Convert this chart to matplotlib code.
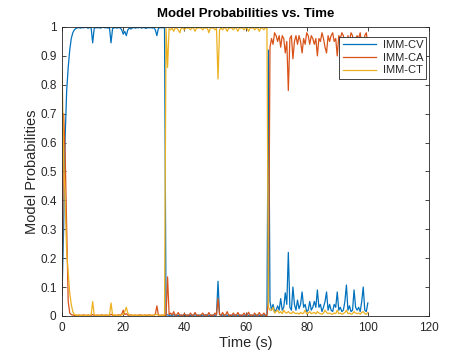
import numpy as np
import matplotlib
matplotlib.use("Agg")
import matplotlib.pyplot as plt

plt.rcParams['font.family'] = ['Liberation Sans', 'DejaVu Sans']

# time samples (s), 0.5 s apart from 0 to 100
t = np.arange(201) * 0.5

p_cv = [
    0.08, 0.30, 0.62, 0.78, 0.86, 0.92, 0.96, 0.98, 0.99, 0.995,
    0.997, 0.998, 0.996, 0.998, 0.997, 0.999, 0.998, 0.996, 0.998, 0.997,
    0.945, 0.995, 0.998, 0.997, 0.998, 0.996, 0.998, 0.999, 0.997, 0.998,
    0.996, 0.998, 0.945, 0.994, 0.997, 0.998, 0.996, 0.998, 0.997, 0.99,
    0.975, 0.985, 0.97, 0.99, 0.996, 0.993, 0.997, 0.998, 0.996, 0.998,
    0.997, 0.999, 0.996, 0.998, 0.997, 0.995, 0.998, 0.997, 0.998, 0.996,
    0.998, 0.99, 0.97, 0.995, 0.998, 0.997, 0.998, 0.996,
    0.003, 0.004, 0.002, 0.003, 0.002, 0.004, 0.002, 0.003, 0.002, 0.002,
    0.003, 0.002, 0.004, 0.002, 0.003, 0.002, 0.002, 0.003, 0.002, 0.004,
    0.002, 0.003, 0.002, 0.002, 0.003, 0.002, 0.004, 0.002, 0.003, 0.002,
    0.002, 0.003, 0.002, 0.004, 0.12, 0.005, 0.002, 0.003, 0.002, 0.004,
    0.002, 0.003, 0.002, 0.002, 0.003, 0.002, 0.004, 0.002, 0.003, 0.002,
    0.002, 0.003, 0.002, 0.004, 0.002, 0.003, 0.002, 0.002, 0.003, 0.002,
    0.004, 0.002, 0.003, 0.002, 0.003, 0.002, 0.003,
    0.92, 0.05, 0.02, 0.04, 0.015, 0.02, 0.035, 0.02, 0.06, 0.02,
    0.03, 0.08, 0.04, 0.22, 0.03, 0.02, 0.10, 0.04, 0.02, 0.055,
    0.025, 0.04, 0.083, 0.03, 0.04, 0.015, 0.02, 0.05, 0.02, 0.03,
    0.05, 0.03, 0.09, 0.03, 0.04, 0.015, 0.03, 0.05, 0.083, 0.02,
    0.04, 0.02, 0.015, 0.04, 0.03, 0.083, 0.02, 0.03, 0.015, 0.02,
    0.05, 0.107, 0.02, 0.035, 0.015, 0.02, 0.09, 0.03, 0.02, 0.03,
    0.015, 0.05, 0.10, 0.02, 0.015, 0.045,
]

p_ca = [
    0.07, 0.70, 0.56, 0.30, 0.05, 0.01, 0.005, 0.003, 0.002, 0.002,
    0.002, 0.003, 0.002, 0.002, 0.004, 0.002, 0.002, 0.003, 0.002, 0.002,
    0.005, 0.002, 0.002, 0.003, 0.002, 0.002, 0.004, 0.002, 0.002, 0.003,
    0.002, 0.002, 0.006, 0.002, 0.003, 0.002, 0.002, 0.004, 0.002, 0.006,
    0.02, 0.005, 0.008, 0.003, 0.002, 0.004, 0.002, 0.002, 0.003, 0.002,
    0.002, 0.004, 0.002, 0.002, 0.003, 0.002, 0.002, 0.004, 0.002, 0.002,
    0.002, 0.006, 0.035, 0.003, 0.002, 0.002, 0.003, 0.002,
    0.002, 0.135, 0.005, 0.01, 0.003, 0.015, 0.002, 0.003, 0.012, 0.002,
    0.003, 0.002, 0.008, 0.002, 0.003, 0.002, 0.01, 0.002, 0.003, 0.012,
    0.002, 0.003, 0.002, 0.004, 0.01, 0.002, 0.003, 0.002, 0.012, 0.002,
    0.003, 0.002, 0.01, 0.003, 0.06, 0.005, 0.002, 0.012, 0.002, 0.004,
    0.015, 0.002, 0.003, 0.002, 0.01, 0.002, 0.003, 0.012, 0.002, 0.003,
    0.002, 0.01, 0.002, 0.003, 0.013, 0.002, 0.003, 0.002, 0.01, 0.002,
    0.003, 0.012, 0.002, 0.003, 0.01, 0.002, 0.002,
    0.05, 0.93, 0.96, 0.94, 0.98, 0.97, 0.95, 0.97, 0.93, 0.97,
    0.96, 0.91, 0.95, 0.78, 0.96, 0.97, 0.89, 0.95, 0.97, 0.94,
    0.97, 0.95, 0.91, 0.96, 0.94, 0.98, 0.97, 0.94, 0.97, 0.96,
    0.94, 0.96, 0.90, 0.96, 0.95, 0.98, 0.96, 0.93, 0.91, 0.97,
    0.95, 0.97, 0.98, 0.95, 0.96, 0.90, 0.97, 0.96, 0.98, 0.97,
    0.94, 0.88, 0.97, 0.95, 0.98, 0.97, 0.90, 0.96, 0.97, 0.96,
    0.98, 0.94, 0.89, 0.97, 0.98, 0.94,
]

p_ct = [
    0.85, 0.55, 0.40, 0.22, 0.15, 0.08, 0.04, 0.015, 0.005, 0.003,
    0.002, 0.003, 0.002, 0.002, 0.003, 0.002, 0.002, 0.003, 0.002, 0.003,
    0.05, 0.004, 0.002, 0.003, 0.002, 0.003, 0.002, 0.002, 0.003, 0.002,
    0.003, 0.002, 0.045, 0.004, 0.002, 0.003, 0.002, 0.002, 0.003, 0.004,
    0.005, 0.015, 0.03, 0.01, 0.003, 0.004, 0.002, 0.003, 0.002, 0.002,
    0.003, 0.002, 0.003, 0.002, 0.002, 0.004, 0.002, 0.003, 0.002, 0.003,
    0.002, 0.005, 0.005, 0.003, 0.002, 0.003, 0.002, 0.003,
    0.995, 0.86, 0.995, 0.99, 0.997, 0.985, 0.997, 0.996, 0.99, 0.98,
    0.997, 0.996, 0.99, 0.997, 0.996, 0.997, 0.99, 0.997, 0.996, 0.985,
    0.997, 0.996, 0.997, 0.996, 0.99, 0.997, 0.996, 0.997, 0.98, 0.997,
    0.996, 0.997, 0.99, 0.996, 0.82, 0.99, 0.997, 0.99, 0.997, 0.996,
    0.985, 0.997, 0.996, 0.997, 0.99, 0.997, 0.996, 0.985, 0.997, 0.996,
    0.997, 0.99, 0.997, 0.996, 0.985, 0.997, 0.996, 0.997, 0.99, 0.997,
    0.996, 0.985, 0.997, 0.996, 0.99, 0.997, 0.997,
    0.03, 0.02, 0.02, 0.03, 0.01, 0.015, 0.02, 0.01, 0.015, 0.008,
    0.02, 0.012, 0.01, 0.015, 0.01, 0.008, 0.015, 0.01, 0.008, 0.01,
    0.006, 0.012, 0.008, 0.01, 0.02, 0.007, 0.01, 0.015, 0.008, 0.01,
    0.012, 0.007, 0.015, 0.01, 0.008, 0.006, 0.01, 0.02, 0.012, 0.008,
    0.01, 0.007, 0.006, 0.01, 0.008, 0.02, 0.008, 0.01, 0.006, 0.008,
    0.012, 0.02, 0.008, 0.01, 0.006, 0.008, 0.015, 0.01, 0.008, 0.01,
    0.006, 0.012, 0.015, 0.008, 0.006, 0.012,
]

series_labels = ["IMM-CV", "IMM-CA", "IMM-CT"]
colors = ["#0072BD", "#D95319", "#EDB120"]
xticks = [0, 20, 40, 60, 80, 100, 120]
yticks = [0, 0.1, 0.2, 0.3, 0.4, 0.5, 0.6, 0.7, 0.8, 0.9, 1]
ytick_labels = ["0", "0.1", "0.2", "0.3", "0.4", "0.5", "0.6", "0.7", "0.8", "0.9", "1"]

fig = plt.figure(figsize=(4.74, 3.55), dpi=100)
ax = fig.add_axes([0.131, 0.110, 0.774, 0.814])

for vals, lab, c in zip([p_cv, p_ca, p_ct], series_labels, colors):
    ax.plot(t, vals, color=c, lw=0.9, label=lab)

ax.set_xlim(0, 120)
ax.set_ylim(0, 1)
ax.set_xticks(xticks)
ax.set_xticklabels([str(v) for v in xticks])
ax.set_yticks(yticks)
ax.set_yticklabels(ytick_labels)

dark = "#262626"
for s in ax.spines.values():
    s.set_color(dark)
    s.set_linewidth(0.6)
ax.tick_params(direction="in", length=3, width=0.6, colors=dark,
               labelsize=8.5, top=True, right=True, pad=4)

ax.set_xlabel("Time (s)", fontsize=10.5, color=dark, labelpad=2)
ax.set_ylabel("Model Probabilities", fontsize=10.5, color=dark, labelpad=1)
ax.set_title("Model Probabilities vs. Time", fontsize=9.5, fontweight="bold",
             color="black", pad=7)

leg = ax.legend(loc="upper right", bbox_to_anchor=(0.993, 0.967),
                fontsize=8, fancybox=False, framealpha=1, edgecolor=dark,
                handlelength=3.0, borderpad=0.3, labelspacing=0.25,
                handletextpad=0.6, borderaxespad=0)
leg.get_frame().set_linewidth(0.6)
for txt in leg.get_texts():
    txt.set_color(dark)

fig.savefig("out.png", dpi=100)
